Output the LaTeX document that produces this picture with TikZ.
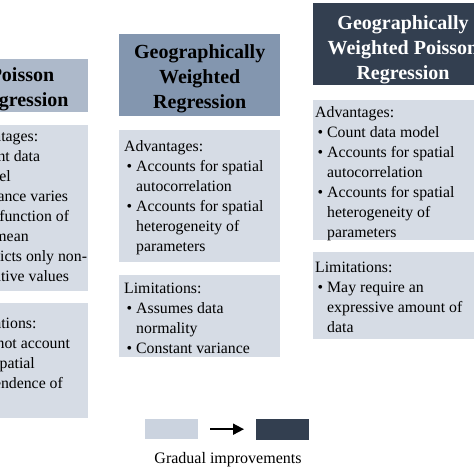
\documentclass[tikz,border=0pt]{standalone}
\usepackage{fontspec}
\setmainfont{Liberation Serif}
\usetikzlibrary{arrows.meta,calc}
\definecolor{hdrA}{HTML}{ADB9CA}
\definecolor{hdrB}{HTML}{8396AF}
\definecolor{hdrC}{HTML}{333F50}
\definecolor{bodyc}{HTML}{D6DCE5}
\definecolor{legl}{HTML}{CBD3DF}
\newcommand\bitem{\hspace*{2.5pt}\makebox[9.5pt][l]{\textbullet}}
\newcommand\bcont{\hspace*{12pt}}
\begin{document}
\begin{tikzpicture}[x=1pt,y=-1pt,
  hdrbox/.style={inner sep=0pt, anchor=north west},
  hdrtext/.style={inner sep=0pt, align=center,
    font=\fontsize{20}{25}\selectfont\bfseries},
  panel/.style={fill=bodyc, inner sep=0pt, anchor=north west},
  ptext/.style={inner sep=0pt, anchor=north west, align=left,
    font=\fontsize{15.8}{20}\selectfont},
  legbox/.style={inner sep=0pt, minimum width=53pt, minimum height=20pt, anchor=north west}]
\path[use as bounding box] (0,0) rectangle (474,474);
\clip (0,0) rectangle (474,474);
\fill[white] (0,0) rectangle (474,474);

% left column
\node[hdrbox, fill=hdrA, minimum width=132pt, minimum height=53pt] (h1) at (-44,59) {};
\node[hdrtext, yshift=-4pt] (t1) at (22,85.5) {Poisson\\Regression};
\node[panel, minimum width=132pt, minimum height=166pt] (a1) at (-44,125) {};
\node[ptext] (ta1) at ($(a1.north west)+(3,5)$) {Advantages:\\
\bitem Count data\\ \bcont model\\
\bitem Variance varies\\ \bcont as a function of\\ \bcont the mean\\
\bitem Predicts only non-\\ \bcont negative values};
\node[panel, minimum width=132pt, minimum height=115pt] (l1) at (-44,303) {};
\node[ptext] (tl1) at ($(l1.north west)+(3,15)$) {Limitations:\\
\bitem Cannot account\\ \bcont for spatial\\ \bcont dependence of};

% middle column
\node[hdrbox, fill=hdrB, minimum width=161pt, minimum height=82pt] (h2) at (119,34) {};
\node[hdrtext, yshift=-4pt] (t2) at (h2.center) {Geographically\\Weighted\\Regression};
\node[panel, minimum width=161pt, minimum height=132pt] (a2) at (119,130) {};
\node[ptext] (ta2) at ($(a2.north west)+(5,10)$) {Advantages:\\
\bitem Accounts for spatial\\ \bcont autocorrelation\\
\bitem Accounts for spatial\\ \bcont heterogeneity of\\ \bcont parameters};
\node[panel, minimum width=161pt, minimum height=82pt] (l2) at (119,275) {};
\node[ptext] (tl2) at ($(l2.north west)+(5,8)$) {Limitations:\\
\bitem Assumes data\\ \bcont normality\\
\bitem Constant variance};

% right column
\node[hdrbox, fill=hdrC, minimum width=178pt, minimum height=82pt] (h3) at (313,3) {};
\node[hdrtext, text=white, yshift=-4pt] (t3) at (403,45.5) {Geographically\\Weighted Poisson\\Regression};
\node[panel, minimum width=178pt, minimum height=140pt] (a3) at (313,100) {};
\node[ptext] (ta3) at ($(a3.north west)+(2,6)$) {Advantages:\\
\bitem Count data model\\
\bitem Accounts for spatial\\ \bcont autocorrelation\\
\bitem Accounts for spatial\\ \bcont heterogeneity of\\ \bcont parameters};
\node[panel, minimum width=178pt, minimum height=87pt] (l3) at (313,252) {};
\node[ptext] (tl3) at ($(l3.north west)+(2,10)$) {Limitations:\\
\bitem May require an\\ \bcont expressive amount of\\ \bcont data};

% legend
\node[legbox, fill=legl] (g1) at (145,419) {};
\node[legbox, fill=hdrC, minimum height=21pt] (g2) at (256,419) {};
\draw[-{Triangle[length=11pt,width=11pt]}, line width=1.8pt, shorten <=12pt, shorten >=12pt] (g1.east) -- (g2.west |- g1.east);
\node[inner sep=0pt, font=\fontsize{16}{18}\selectfont] (gl) at (228,460) {Gradual improvements};
\end{tikzpicture}
\end{document}
